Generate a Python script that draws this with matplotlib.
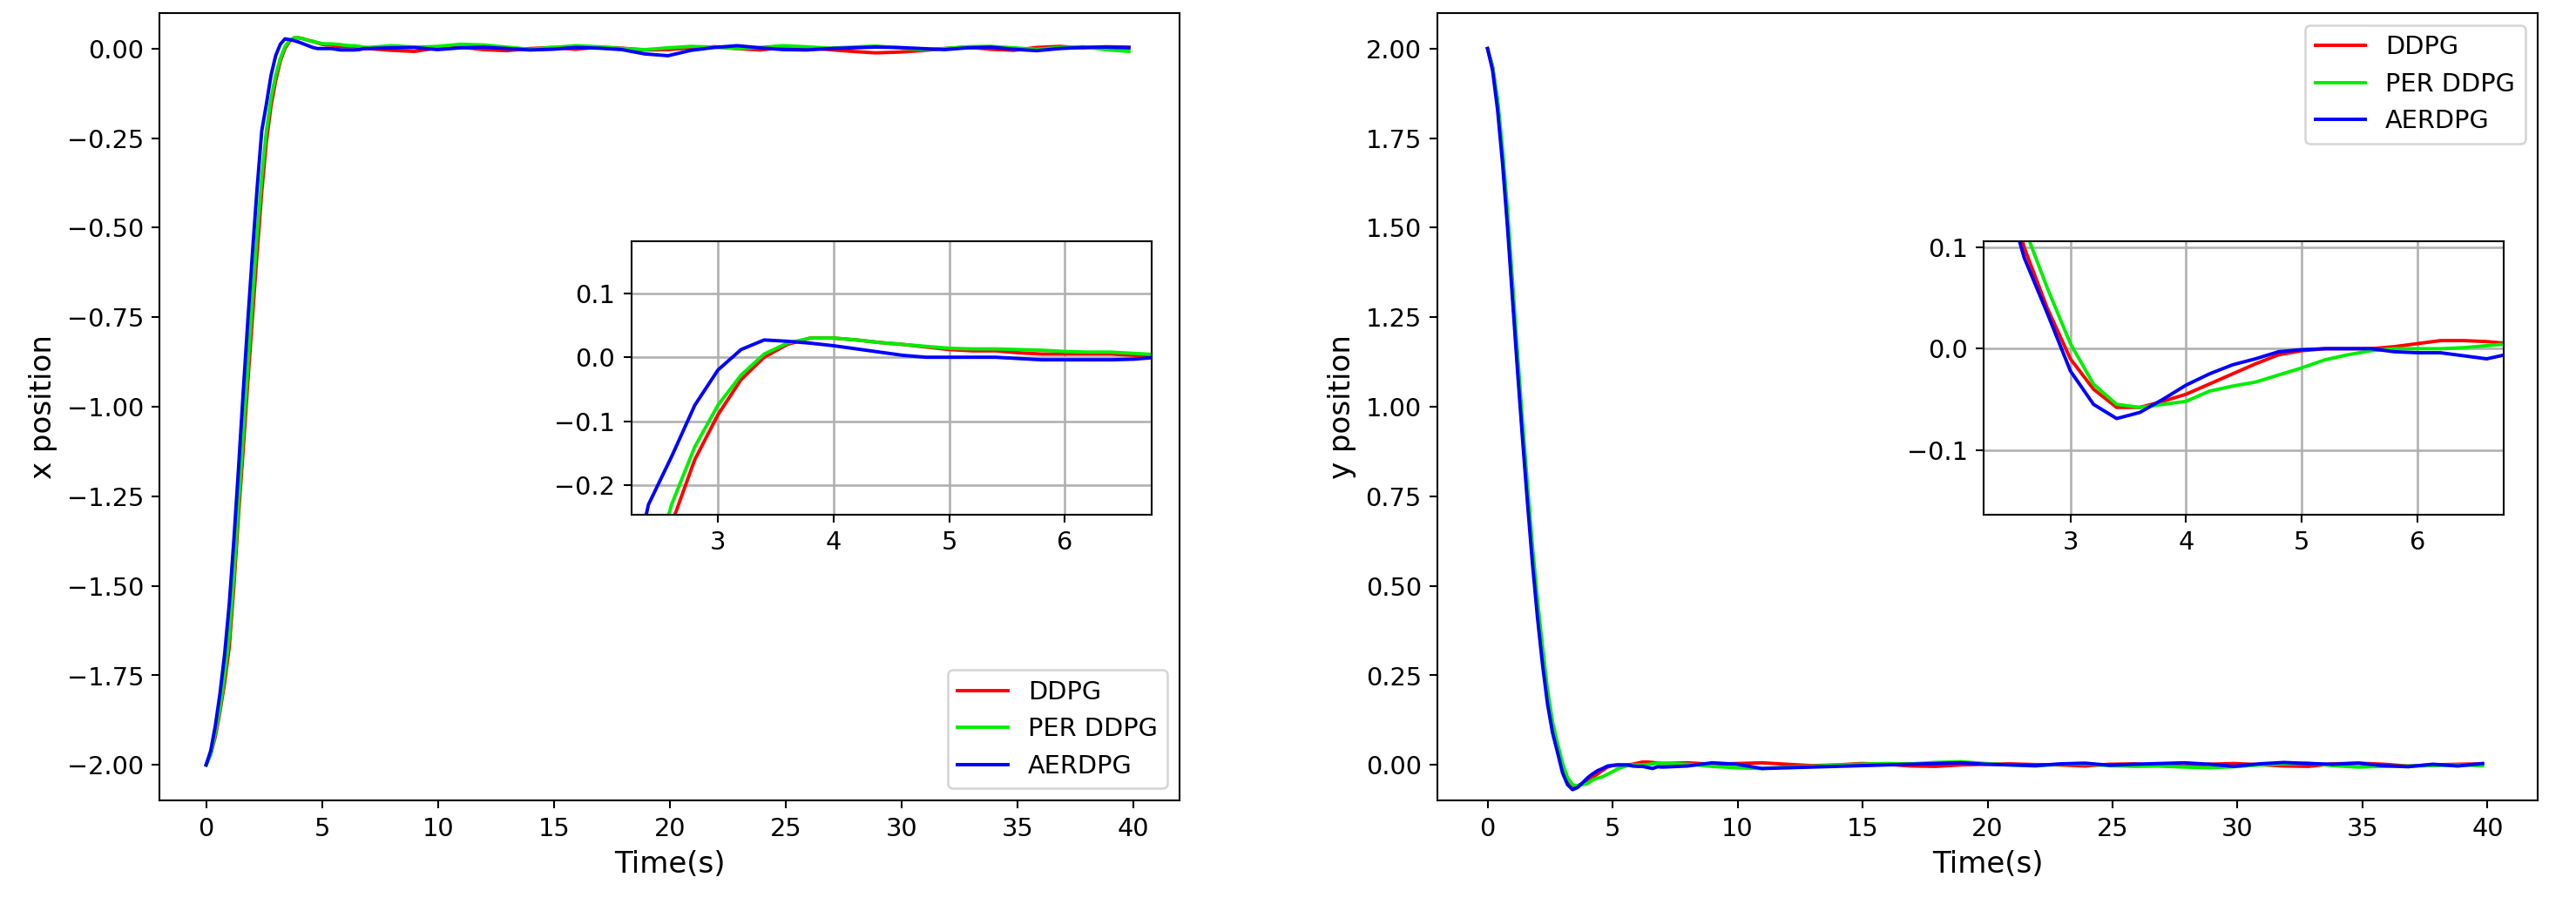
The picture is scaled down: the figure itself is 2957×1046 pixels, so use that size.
import numpy as np
import matplotlib
matplotlib.use("Agg")
import matplotlib.pyplot as plt

labels = ["DDPG", "PER DDPG", "AERDPG"]
colors = ["#ff0000", "#00ee00", "#0000ff"]

t_fine = np.round(np.arange(0, 7.0, 0.2), 1)  # 0 .. 6.8

x_red_fine = [-2.0,-1.97,-1.92,-1.85,-1.77,-1.67,-1.5,-1.3,-1.12,-0.93,-0.75,-0.57,-0.4,-0.26,-0.16,-0.09,-0.035,0.0,0.02,0.03,0.03,
              0.027,0.023,0.02,0.016,0.012,0.01,0.01,0.007,0.005,0.005,0.005,0.005,0.003,0.0]
x_green_fine = [-2.0,-1.97,-1.91,-1.84,-1.75,-1.64,-1.47,-1.27,-1.08,-0.89,-0.7,-0.52,-0.36,-0.23,-0.14,-0.075,-0.028,0.005,0.022,0.03,0.03,
                0.027,0.023,0.02,0.017,0.014,0.013,0.013,0.012,0.011,0.009,0.008,0.008,0.006,0.004]
x_blue_fine = [-2.0,-1.96,-1.89,-1.8,-1.69,-1.55,-1.37,-1.17,-0.96,-0.76,-0.57,-0.39,-0.23,-0.155,-0.075,-0.02,0.012,0.027,0.025,0.022,0.018,
               0.013,0.008,0.003,0.0,0.0,0.0,0.0,-0.002,-0.004,-0.004,-0.004,-0.004,-0.003,0.0]

x_red_tail = [0.0,-0.005,-0.008,0.002,0.004,-0.003,-0.006,0.0,0.003,-0.002,0.004,0.001,-0.004,-0.003,0.002,0.005,0.0,-0.004,0.003,0.002,
              -0.003,-0.008,-0.012,-0.01,-0.006,0.0,0.004,-0.002,-0.005,0.003,0.006,0.002,0.005,0.004]
x_green_tail = [0.003,0.008,0.004,0.006,0.012,0.01,0.004,-0.002,0.003,0.008,0.005,0.0,-0.003,0.002,0.006,0.004,0.0,0.003,0.008,0.005,
                0.001,0.004,0.007,0.002,-0.003,0.0,0.005,0.006,0.002,-0.002,0.003,0.005,-0.003,-0.008]
x_blue_tail = [0.0,0.002,0.003,-0.003,0.002,0.004,0.0,-0.004,-0.002,0.003,0.001,-0.003,-0.015,-0.02,-0.005,0.003,0.008,0.002,-0.003,-0.004,
               0.0,0.002,0.004,0.003,0.0,-0.003,0.002,0.004,-0.002,-0.006,0.0,0.003,0.004,0.002]

y_red_fine = [2.0,1.95,1.85,1.7,1.52,1.32,1.12,0.93,0.75,0.58,0.43,0.3,0.19,0.1,0.04,-0.01,-0.04,-0.058,-0.058,-0.052,-0.045,
              -0.035,-0.025,-0.015,-0.006,-0.002,0.0,0.0,0.0,0.002,0.005,0.008,0.008,0.007,0.005]
y_green_fine = [2.0,1.95,1.86,1.72,1.55,1.35,1.15,0.96,0.78,0.61,0.46,0.33,0.21,0.12,0.06,0.005,-0.035,-0.055,-0.058,-0.055,-0.052,
                -0.042,-0.037,-0.033,-0.026,-0.019,-0.011,-0.006,-0.002,0.0,0.0,0.0,0.001,0.003,0.005]
y_blue_fine = [2.0,1.94,1.83,1.68,1.5,1.3,1.1,0.91,0.73,0.56,0.41,0.28,0.17,0.09,0.035,-0.022,-0.055,-0.069,-0.063,-0.05,-0.036,
               -0.025,-0.016,-0.01,-0.003,-0.001,0.0,0.0,0.0,-0.003,-0.004,-0.004,-0.007,-0.01,-0.005]

y_red_tail = [0.004,0.006,0.002,0.004,0.006,0.002,-0.002,0.0,0.004,0.002,-0.003,-0.004,0.0,0.002,0.003,0.001,0.0,-0.003,0.002,0.003,
              -0.002,-0.004,0.002,0.004,0.001,-0.003,-0.004,0.003,0.005,0.002,-0.003,0.0,0.002,0.003]
y_green_tail = [0.005,0.002,-0.004,-0.008,-0.01,-0.006,-0.004,0.0,0.002,0.004,0.003,0.007,0.009,0.004,0.0,-0.003,0.002,0.003,-0.002,-0.004,
                -0.003,-0.006,-0.008,-0.005,0.0,0.003,0.005,-0.002,-0.006,-0.004,-0.003,-0.002,0.0,-0.002]
y_blue_tail = [-0.006,-0.003,0.006,0.002,-0.01,-0.008,-0.006,-0.004,-0.002,0.0,0.002,0.004,0.006,0.002,0.0,-0.002,0.003,0.005,-0.001,0.002,
               0.004,0.006,0.002,-0.004,0.003,0.007,0.004,0.002,0.005,-0.002,-0.005,0.002,-0.003,0.004]

t_tail = np.linspace(7.0, 39.8, len(x_red_tail))
t_all = np.concatenate([t_fine, t_tail])

def full(fine, tail):
    return np.concatenate([fine, tail])

xs = [full(x_red_fine, x_red_tail), full(x_green_fine, x_green_tail), full(x_blue_fine, x_blue_tail)]
ys = [full(y_red_fine, y_red_tail), full(y_green_fine, y_green_tail), full(y_blue_fine, y_blue_tail)]

plt.rcParams['font.family'] = ['DejaVu Sans']
fig = plt.figure(figsize=(15.73, 5.564), dpi=188)

def main(rect, data, ylabel, yticks, ylim, legloc):
    ax = fig.add_axes(rect)
    for d, c, l in zip(data, colors, labels):
        ax.plot(t_all, d, color=c, lw=1.5, label=l)
    ax.set_xlim(-2, 42)
    ax.set_xticks(np.arange(0, 45, 5))
    ax.set_ylim(*ylim)
    ax.set_yticks(yticks)
    ax.set_yticklabels([f"{v:.2f}".replace("-", "\u2212") for v in yticks])
    ax.set_xlabel("Time(s)", fontsize=13)
    ax.set_ylabel(ylabel, fontsize=13)
    ax.tick_params(labelsize=11)
    ax.legend(loc=legloc, fontsize=11)
    return ax

yt = np.arange(-2.0, 0.01, 0.25)
main([0.062, 0.121, 0.396, 0.865], xs, "x position", yt, (-2.1, 0.1), "lower right")
yt2 = np.arange(0.0, 2.01, 0.25)
main([0.558, 0.121, 0.427, 0.865], ys, "y position", yt2, (-0.1, 2.1), "upper right")

def inset(rect, data, ylim, yticks):
    ax = fig.add_axes(rect)
    for d, c in zip(data, colors):
        ax.plot(t_all, d, color=c, lw=1.5)
    ax.set_xlim(2.25, 6.75)
    ax.set_xticks([3, 4, 5, 6])
    ax.set_ylim(*ylim)
    ax.set_yticks(yticks)
    ax.grid(True, color="#b0b0b0", lw=1.0)
    ax.tick_params(labelsize=11)
    return ax

inset([0.245, 0.435, 0.202, 0.30], xs, (-0.246, 0.181), [-0.2, -0.1, 0.0, 0.1])
inset([0.770, 0.435, 0.202, 0.30], ys, (-0.164, 0.106), [-0.1, 0.0, 0.1])

fig.savefig("out.png", dpi=188)
